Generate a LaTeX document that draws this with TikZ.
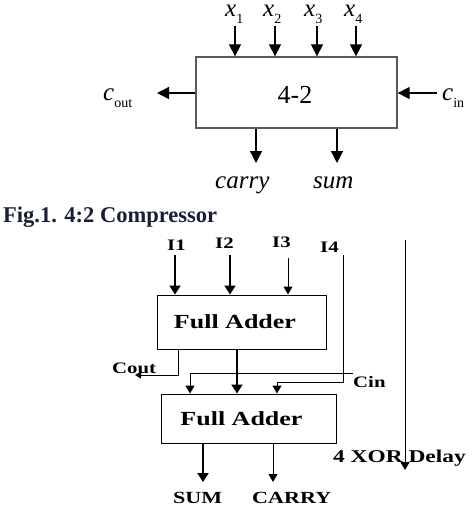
\documentclass[tikz,border=0pt]{standalone}
\usepackage{fontspec}
\setmainfont{Liberation Serif}
\newfontfamily\blkfont{Liberation Serif}[FakeStretch=1.3]
\usetikzlibrary{arrows.meta}
\definecolor{capcol}{RGB}{25,30,55}
\begin{document}
\begin{tikzpicture}[x=1pt,y=-1pt]
\useasboundingbox (0,0) rectangle (474,508);
\tikzset{
  tbox/.style={draw=black!65,line width=1.3pt,inner sep=0},
  fbox/.style={draw,line width=1pt,inner sep=0},
  tarr/.style={line width=1.3pt,-{Triangle[width=12pt,length=12pt]}},
  thk/.style={line width=2pt,-{Triangle[width=11pt,length=9pt]}},
  thn/.style={line width=1pt,-{Triangle[width=9pt,length=8pt]}},
  lbl/.style={inner sep=0,anchor=base west},
  tlbl/.style={lbl,font=\rmfamily\fontsize{25}{25}\selectfont},
  blbl/.style={lbl,font=\blkfont\bfseries\fontsize{16}{16}\selectfont},
  flbl/.style={inner sep=0,font=\blkfont\bfseries\fontsize{20}{20}\selectfont},
}
% ---------- top figure: 4-2 compressor ----------
\node[tbox,minimum width=201,minimum height=71] (cmp) at (296.5,92.5) {};
\node[inner sep=0,font=\rmfamily\fontsize{26}{26}\selectfont] (t42) at (295,95) {4-2};
\node[tlbl] (x1) at (225,17) {\itshape x\raisebox{-7pt}{\upshape\fontsize{14}{14}\selectfont 1}};
\node[tlbl] (x2) at (263,17) {\itshape x\raisebox{-7pt}{\upshape\fontsize{14}{14}\selectfont 2}};
\node[tlbl] (x3) at (304,17) {\itshape x\raisebox{-7pt}{\upshape\fontsize{14}{14}\selectfont 3}};
\node[tlbl] (x4) at (344,17) {\itshape x\raisebox{-7pt}{\upshape\fontsize{14}{14}\selectfont 4}};
\coordinate (s1) at (235,26);
\coordinate (s2) at (275,26);
\coordinate (s3) at (317,26);
\coordinate (s4) at (356,26);
\draw[tarr] (s1) -- (s1 |- cmp.north);
\draw[tarr] (s2) -- (s2 |- cmp.north);
\draw[tarr] (s3) -- (s3 |- cmp.north);
\draw[tarr] (s4) -- (s4 |- cmp.north);
\node[tlbl] (cout) at (103,100) {\itshape c\raisebox{-8pt}{\upshape\fontsize{14}{14}\selectfont out}};
\node[tlbl] (cin) at (442,100) {\itshape c\raisebox{-8pt}{\upshape\fontsize{14}{14}\selectfont in}};
\coordinate (coE) at (157,93);
\coordinate (ciS) at (437,93);
\draw[tarr] (cmp.west |- coE) -- (coE);
\draw[tarr] (ciS) -- (cmp.east |- ciS);
\node[tlbl] (carry) at (215,188) {\itshape carry};
\node[tlbl] (sum) at (313,188) {\itshape sum};
\coordinate (ca) at (256,163);
\coordinate (su) at (337,163);
\draw[tarr] (ca |- cmp.south) -- (ca);
\draw[tarr] (su |- cmp.south) -- (su);
% caption
\node[lbl,text=capcol,font=\bfseries\fontsize{22.5}{22.5}\selectfont] (cap) at (3,222) {Fig.1. 4:2 Compressor};
% ---------- bottom figure ----------
\node[fbox,minimum width=169,minimum height=54] (fa1) at (241.5,322) {};
\node[flbl] (fa1t) at (235,322) {Full Adder};
\node[fbox,minimum width=175,minimum height=49] (fa2) at (248.5,418.5) {};
\node[flbl] (fa2t) at (241.5,419) {Full Adder};
\node[blbl] (i1) at (167,250) {I1};
\node[blbl] (i2) at (215,248) {I2};
\node[blbl] (i3) at (272,247) {I3};
\node[blbl] (i4) at (320,252) {I4};
\coordinate (a1) at (175,255);
\coordinate (a2) at (230,255);
\coordinate (a3) at (288,258);
\draw[thk] (a1) -- (a1 |- fa1.north);
\draw[thk] (a2) -- (a2 |- fa1.north);
\draw[thn] (a3) -- (a3 |- fa1.north);
% I4 path
\coordinate (a4) at (343,255);
\coordinate (b4) at (277,382);
\draw[thn] (a4) |- (b4) -- (b4 |- fa2.north);
% long delay line
\coordinate (dl1) at (405,240);
\coordinate (dl2) at (405,470);
\draw[thn] (dl1) -- (dl2);
\node[blbl,font=\blkfont\bfseries\fontsize{18}{18}\selectfont] (xor) at (333,462) {4 XOR Delay};
% Cout
\coordinate (co1) at (178,375);
\coordinate (co2) at (135,375);
\draw[line width=1pt,-{Triangle[width=7pt,length=6pt]}] (co1 |- fa1.south) -- (co1) -- (co2);
\node[blbl] (coutb) at (112,373) {Cout};
% middle
\coordinate (m1) at (237,349);
\draw[thk] (m1 |- fa1.south) -- (m1 |- fa2.north);
% Cin
\node[blbl] (cinb) at (353,387) {Cin};
\coordinate (ci1) at (353,373);
\coordinate (ci2) at (190,373);
\draw[thn] (ci1) -- (ci2) -- (ci2 |- fa2.north);
% outputs
\coordinate (so) at (203,482);
\coordinate (cy) at (273,482);
\draw[thk] (so |- fa2.south) -- (so);
\draw[thn] (cy |- fa2.south) -- (cy);
\node[blbl,font=\blkfont\bfseries\fontsize{17}{17}\selectfont] (sumb) at (173,503) {SUM};
\node[blbl,font=\blkfont\bfseries\fontsize{17}{17}\selectfont] (carryb) at (252,503) {CARRY};
\end{tikzpicture}
\end{document}
